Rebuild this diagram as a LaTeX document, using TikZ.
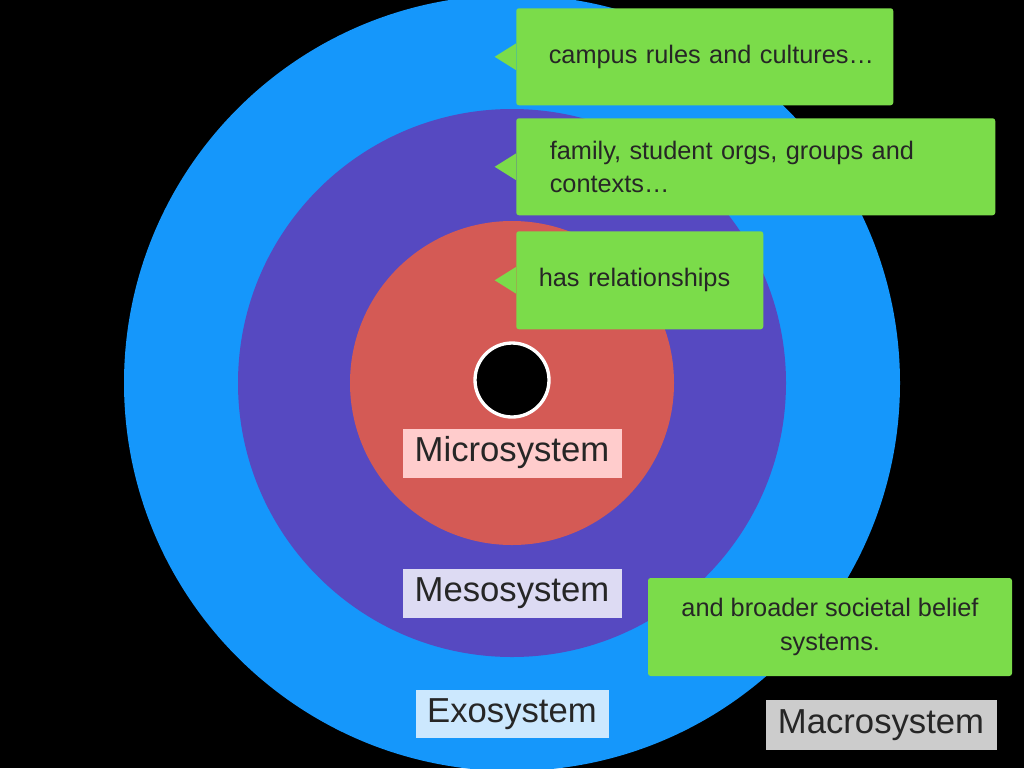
\documentclass[tikz,border=0pt]{standalone}
\usepackage{fontspec}
\setmainfont{Liberation Sans}
\begin{document}
\begin{tikzpicture}[x=0.75pt,y=-0.75pt,
  call/.style={fill=callg,rounded corners=2pt,inner sep=0pt,anchor=north west,font=\fontsize{19}{25}\selectfont,align=left,text=black!85},
  lab/.style={inner sep=0pt,font=\fontsize{26}{30}\selectfont,text=black!85}]
\definecolor{callg}{HTML}{7BDC4A}
\definecolor{blueo}{HTML}{1597FB}
\definecolor{purp}{HTML}{5649C1}
\definecolor{redc}{HTML}{D45A55}
\fill[black] (0,0) rectangle (1024,768);
\useasboundingbox (0,0) rectangle (1024,768);
\fill[blueo] (512,383) circle[radius=388];
\fill[purp] (512,383) circle[radius=274];
\fill[redc] (512,383) circle[radius=162];
\node[circle,fill=black,draw=white,line width=2.5pt,minimum size=74*0.75pt,inner sep=0pt] (self) at (512,380) {};
% callouts
\node[call,minimum width=377*0.75pt,minimum height=97*0.75pt,text width=340*0.75pt] (c1) at (516,8) {\hspace*{14\dimexpr0.75pt}campus rules and cultures\ldots};
\node[call,minimum width=479*0.75pt,minimum height=97*0.75pt,text width=440*0.75pt] (c2) at (516,118) {\hspace*{14\dimexpr0.75pt}\parbox{400\dimexpr0.75pt}{family, student orgs, groups and\\contexts\ldots}};
\node[call,minimum width=247*0.75pt,minimum height=98*0.75pt,text width=230*0.75pt] (c3) at (516,231) {\hspace*{14\dimexpr0.75pt}has relationships};
\node[call,anchor=center,align=center,minimum width=364*0.75pt,minimum height=98*0.75pt] (c4) at (830,627) {and broader societal belief\\systems.};
\foreach \c in {c1,c2,c3}{
  \fill[callg] ([yshift=-10]\c.west) -- ([xshift=-16]\c.west) -- ([yshift=10]\c.west) -- cycle;}
% labels
\node[lab,fill=red!20!white,minimum width=219*0.75pt,minimum height=49*0.75pt] (mi) at (512,453) {Microsystem};
\node[lab,fill=purp!20!white,minimum width=219*0.75pt,minimum height=49*0.75pt] (me) at (512,593) {Mesosystem};
\node[lab,fill=blueo!22!white,minimum width=193*0.75pt,minimum height=48*0.75pt] (ex) at (512,714) {Exosystem};
\node[lab,fill=black!20!white,minimum width=231*0.75pt,minimum height=50*0.75pt] (ma) at (881,725) {Macrosystem};
\end{tikzpicture}
\end{document}
